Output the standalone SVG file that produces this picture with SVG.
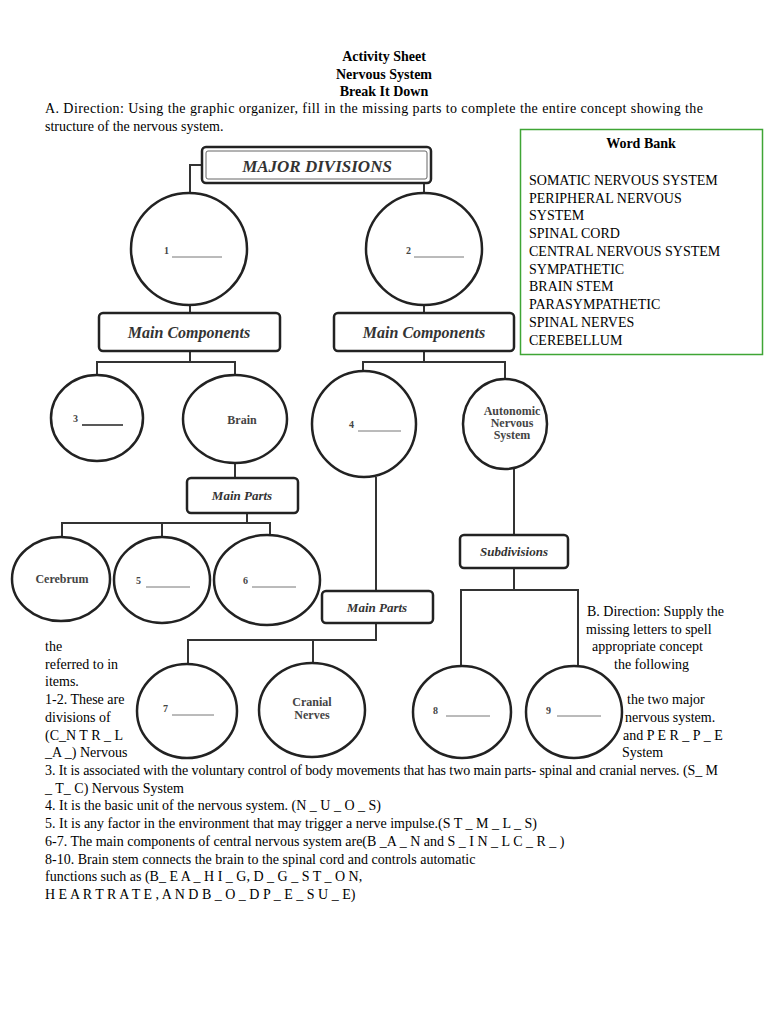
<svg xmlns="http://www.w3.org/2000/svg" width="768" height="1024" viewBox="0 0 768 1024">
<style>
.t{font-family:"Liberation Serif",serif;font-size:14px;fill:#000}
.b{font-weight:bold}
.lab{font-family:"Liberation Serif",serif;font-style:italic;font-weight:bold;fill:#333;text-anchor:middle}
.cl{font-family:"Liberation Serif",serif;font-weight:bold;fill:#444;text-anchor:middle;font-size:12px}
.n{font-family:"Liberation Serif",serif;font-weight:bold;fill:#444;font-size:10px}
.c{fill:#fff;stroke:#222;stroke-width:2.5}
.bx{fill:#fff;stroke:#222;stroke-width:2.5}
.in{fill:none;stroke:#666;stroke-width:1}
.ln{fill:none;stroke:#333;stroke-width:2}
.bl{stroke:#777;stroke-width:1}
</style>
<rect width="768" height="1024" fill="#fff"/>
<g class="t b" text-anchor="middle">
<text x="384" y="61">Activity Sheet</text>
<text x="384" y="79">Nervous System</text>
<text x="384" y="96">Break It Down</text>
</g>
<text class="t" x="45" y="113" textLength="658">A. Direction: Using the graphic organizer, fill in the missing parts to complete the entire concept showing the</text>
<text class="t" x="45" y="131">structure of the nervous system.</text>
<g id="connectors">
<path class="ln" d="M202,165H190V193M431,165H424V193"/>
<path class="ln" d="M190,305V313M424,305V313"/>
<path class="ln" d="M190,351V362M97,375V362H235V375"/>
<path class="ln" d="M424,352V362M363,371V362H505V378"/>
<path class="ln" d="M235,463V477"/>
<path class="ln" d="M247,513V523M62,537V523H270V535M162,523V537"/>
<path class="ln" d="M376,477V591"/>
<path class="ln" d="M376,622V640H188V665M313,640V663"/>
<path class="ln" d="M514,469V535"/>
<path class="ln" d="M514,568V590H461V667M514,590H578V667"/>
</g>
<g id="major"><rect class="bx" x="202" y="147" width="229" height="36" rx="4"/><rect class="in" x="206" y="151" width="221" height="28" rx="2"/><text class="lab" x="317" y="172" font-size="17">MAJOR DIVISIONS</text></g>
<g id="c1"><ellipse class="c" cx="189" cy="249" rx="58" ry="56"/><text class="n" x="164" y="254">1</text><line class="bl" x1="172" y1="257" x2="222" y2="257"/></g>
<g id="c2"><ellipse class="c" cx="424" cy="249" rx="58" ry="56"/><text class="n" x="406" y="254">2</text><line class="bl" x1="414" y1="257" x2="464" y2="257"/></g>
<g id="mc1"><rect class="bx" x="99" y="313" width="181" height="38" rx="4"/><text class="lab" x="189" y="338" font-size="16">Main Components</text></g>
<g id="mc2"><rect class="bx" x="334" y="313" width="180" height="38" rx="4"/><text class="lab" x="424" y="338" font-size="16">Main Components</text></g>
<g id="c3"><ellipse class="c" cx="97" cy="418" rx="46" ry="43"/><text class="n" x="73" y="422">3</text><line x1="82" y1="425" x2="123" y2="425" stroke="#222" stroke-width="1.5"/></g>
<g id="brain"><ellipse class="c" cx="235" cy="419" rx="52" ry="44"/><text class="cl" x="242" y="424">Brain</text></g>
<g id="c4"><ellipse class="c" cx="364" cy="424" rx="52" ry="53"/><text class="n" x="349" y="428">4</text><line class="bl" x1="358" y1="431" x2="401" y2="431"/></g>
<g id="auto"><ellipse class="c" cx="505" cy="424" rx="42" ry="45"/><text class="cl" font-size="9"><tspan x="512" y="415">Autonomic</tspan><tspan x="512" y="427">Nervous</tspan><tspan x="512" y="439">System</tspan></text></g>
<g id="mp1"><rect class="bx" x="187" y="478" width="111" height="35" rx="4"/><text class="lab" x="242" y="500" font-size="13">Main Parts</text></g>
<g id="cereb"><ellipse class="c" cx="61" cy="579" rx="49" ry="42"/><text class="cl" x="62" y="583" font-size="11">Cerebrum</text></g>
<g id="c5"><ellipse class="c" cx="162" cy="580" rx="48" ry="43"/><text class="n" x="136" y="584">5</text><line class="bl" x1="146" y1="587" x2="190" y2="587"/></g>
<g id="c6"><ellipse class="c" cx="267" cy="580" rx="53" ry="45"/><text class="n" x="243" y="584">6</text><line class="bl" x1="252" y1="587" x2="296" y2="587"/></g>
<g id="mp2"><rect class="bx" x="322" y="591" width="111" height="32" rx="4"/><text class="lab" x="377" y="612" font-size="13">Main Parts</text></g>
<g id="sub"><rect class="bx" x="460" y="535" width="108" height="33" rx="4"/><text class="lab" x="514" y="556" font-size="13">Subdivisions</text></g>
<g id="c7"><ellipse class="c" cx="187" cy="711" rx="50" ry="47"/><text class="n" x="163" y="712">7</text><line class="bl" x1="172" y1="715" x2="214" y2="715"/></g>
<g id="cranial"><ellipse class="c" cx="312" cy="710" rx="53" ry="47"/><text class="cl" font-size="14"><tspan x="312" y="706">Cranial</tspan><tspan x="312" y="719">Nerves</tspan></text></g>
<g id="c8"><ellipse class="c" cx="462" cy="712" rx="49" ry="46"/><text class="n" x="433" y="714">8</text><line class="bl" x1="446" y1="716" x2="490" y2="716"/></g>
<g id="c9"><ellipse class="c" cx="574" cy="712" rx="48" ry="46"/><text class="n" x="546" y="714">9</text><line class="bl" x1="557" y1="716" x2="601" y2="716"/></g>
<g id="wordbank">
<rect x="520.5" y="129.5" width="242" height="225" fill="none" stroke="#3fa535" stroke-width="1.5"/>
<text class="t b" x="641" y="148" text-anchor="middle">Word Bank</text>
<text class="t"><tspan x="529" y="185">SOMATIC NERVOUS SYSTEM</tspan><tspan x="529" y="203">PERIPHERAL NERVOUS</tspan><tspan x="529" y="220">SYSTEM</tspan><tspan x="529" y="238">SPINAL CORD</tspan><tspan x="529" y="256">CENTRAL NERVOUS SYSTEM</tspan><tspan x="529" y="274">SYMPATHETIC</tspan><tspan x="529" y="291">BRAIN STEM</tspan><tspan x="529" y="309">PARASYMPATHETIC</tspan><tspan x="529" y="327">SPINAL NERVES</tspan><tspan x="529" y="345">CEREBELLUM</tspan></text>
</g>
<text class="t"><tspan x="587" y="616">B. Direction: Supply the</tspan><tspan x="586" y="634">missing letters to spell</tspan><tspan x="592" y="651">appropriate concept</tspan><tspan x="614" y="669">the following</tspan></text>
<text class="t"><tspan x="45" y="651">the</tspan><tspan x="45" y="669">referred to in</tspan><tspan x="45" y="686">items.</tspan><tspan x="45" y="704">1-2. These are</tspan><tspan x="45" y="722">divisions of</tspan><tspan x="45" y="740">(C_N T R _ L</tspan><tspan x="45" y="757">_A _) Nervous</tspan></text>
<text class="t"><tspan x="627" y="704">the two major</tspan><tspan x="625" y="722">nervous system.</tspan><tspan x="623" y="740">and P E R _ P _ E</tspan><tspan x="622" y="757">System</tspan></text>
<text class="t" x="45" y="775" textLength="673">3. It is associated with the voluntary control of body movements that has two main parts- spinal and cranial nerves. (S_ M</text>
<text class="t" x="45" y="793">_ T_ C) Nervous System</text>
<text class="t" x="45" y="810">4. It is the basic unit of the nervous system. (N _ U _ O _ S)</text>
<text class="t" x="45" y="828">5. It is any factor in the environment that may trigger a nerve impulse.(S T _ M _ L _ S)</text>
<text class="t" x="45" y="846">6-7. The main components of central nervous system are(B _A _ N and S _ I N _ L C _ R _ )</text>
<text class="t" x="45" y="864">8-10. Brain stem connects the brain to the spinal cord and controls automatic</text>
<text class="t" x="45" y="881">functions such as (B_ E A _ H I _ G, D _ G _ S T _ O N,</text>
<text class="t" x="45" y="899">H E A R T R A T E , A N D B _ O _ D P _ E _ S U _ E)</text>
</svg>
